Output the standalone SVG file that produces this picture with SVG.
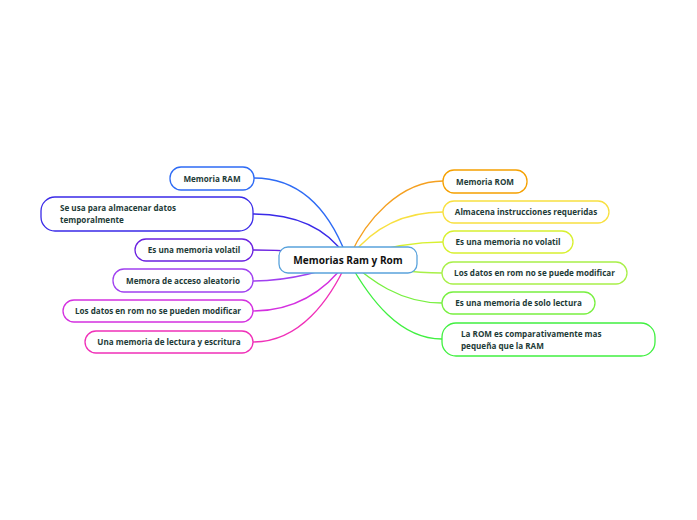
<svg xmlns="http://www.w3.org/2000/svg" width="697" height="520" viewBox="0 0 697 520">
<style>
.n{fill:#fff;stroke-width:1.3}
.t{font-family:"Open Sans","Noto Sans",sans-serif;font-weight:bold;font-size:8.1px;fill:#1d3b37}
.m{text-anchor:middle}
.c{fill:none;stroke-width:1.3}
</style>
<rect width="697" height="520" fill="#fff"/>
<g id="connectors">
<path class="c" stroke="#2e6bf5" d="M254 178 C300 178 330 210 348 260"/>
<path class="c" stroke="#3a2ae8" d="M253 214 C300 214 330 230 348 260"/>
<path class="c" stroke="#6a20e0" d="M253 250 C280 250 320 252 348 260"/>
<path class="c" stroke="#a040f0" d="M253 281 C290 281 330 270 348 260"/>
<path class="c" stroke="#d430e0" d="M253 311 C300 311 330 285 348 260"/>
<path class="c" stroke="#f030b8" d="M253 342 C300 342 330 300 348 260"/>
<path class="c" stroke="#f5a020" d="M348 260 C365 220 400 181 443 181"/>
<path class="c" stroke="#f8e040" d="M348 260 C370 230 400 212 443 212"/>
<path class="c" stroke="#d8f030" d="M348 260 C380 248 410 242 443 242"/>
<path class="c" stroke="#a8f048" d="M348 260 C380 268 410 273 442 273"/>
<path class="c" stroke="#78f040" d="M348 260 C370 280 400 303 442 303"/>
<path class="c" stroke="#40f040" d="M348 260 C370 300 400 339 442 339"/>
</g>
<g id="center">
<rect x="279" y="247" width="138" height="26" rx="9" fill="#fff" stroke="#5aa3dc" stroke-width="1.3"/>
<text x="348" y="264" text-anchor="middle" font-family="'Open Sans','Noto Sans',sans-serif" font-weight="bold" font-size="10.1" fill="#111">Memorias Ram y Rom</text>
</g>
<g id="l1"><rect class="n" x="170" y="167" width="84" height="23" rx="11" stroke="#2e6bf5"/><text class="t m" x="212" y="181.5">Memoria RAM</text></g>
<g id="l2"><rect class="n" x="41" y="197" width="212" height="34" rx="14" stroke="#3a2ae8"/><text class="t" x="60" y="211">Se usa para almacenar datos</text><text class="t" x="60" y="222.5">temporalmente</text></g>
<g id="l3"><rect class="n" x="135" y="239" width="118" height="22" rx="11" stroke="#6a20e0"/><text class="t m" x="194" y="253">Es una memoria volatil</text></g>
<g id="l4"><rect class="n" x="113" y="269" width="140" height="23" rx="11" stroke="#a040f0"/><text class="t m" x="183" y="283.5">Memora de acceso aleatorio</text></g>
<g id="l5"><rect class="n" x="63" y="300" width="190" height="22" rx="11" stroke="#d430e0"/><text class="t m" x="158" y="314">Los datos en rom no se pueden modificar</text></g>
<g id="l6"><rect class="n" x="85" y="331" width="168" height="22" rx="11" stroke="#f030b8"/><text class="t m" x="169" y="345">Una memoria de lectura y escritura</text></g>
<g id="r1"><rect class="n" x="443" y="170" width="84" height="23" rx="11" stroke="#f5a000"/><text class="t m" x="485" y="184.5">Memoria ROM</text></g>
<g id="r2"><rect class="n" x="443" y="201" width="166" height="22" rx="11" stroke="#f8e040"/><text class="t m" x="526" y="215">Almacena instrucciones requeridas</text></g>
<g id="r3"><rect class="n" x="443" y="231" width="130" height="22" rx="11" stroke="#d8f030"/><text class="t m" x="508" y="245">Es una memoria no volatil</text></g>
<g id="r4"><rect class="n" x="442" y="262" width="185" height="22" rx="11" stroke="#a8f048"/><text class="t m" x="534.5" y="276">Los datos en rom no se puede modificar</text></g>
<g id="r5"><rect class="n" x="442" y="292" width="153" height="22" rx="11" stroke="#78f040"/><text class="t m" x="518.5" y="306">Es una memoria de solo lectura</text></g>
<g id="r6"><rect class="n" x="442" y="323" width="213" height="33" rx="14" stroke="#40f040"/><text class="t" x="461" y="337">La ROM es comparativamente mas</text><text class="t" x="461" y="348.5">pequeña que la RAM</text></g>
</svg>
